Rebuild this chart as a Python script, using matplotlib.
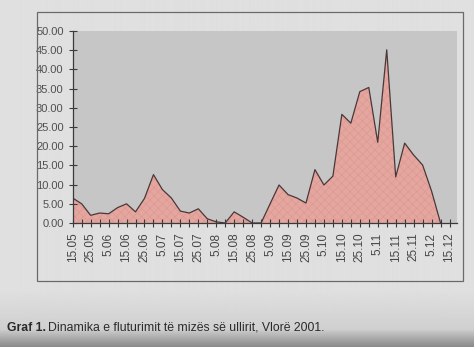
import numpy as np
import matplotlib
matplotlib.use('Agg')
import matplotlib.pyplot as plt
from matplotlib.patches import Rectangle

# flight dynamics, readings every 5 days from 15.05 to 10.12
dates = ['15.05', '20.05', '25.05', '30.05', '5.06', '10.06', '15.06', '20.06', '25.06', '30.06',
         '5.07', '10.07', '15.07', '20.07', '25.07', '30.07', '5.08', '10.08', '15.08', '20.08',
         '25.08', '30.08', '5.09', '10.09', '15.09', '20.09', '25.09', '30.09', '5.10', '10.10',
         '15.10', '20.10', '25.10', '30.10', '5.11', '10.11', '15.11', '20.11', '25.11', '30.11',
         '5.12', '10.12', '15.12']
values = [6.5, 5.0, 2.0, 2.6, 2.4, 4.0, 5.0, 2.9, 6.4, 12.6,
          8.7, 6.5, 3.1, 2.6, 3.7, 1.1, 0.3, 0.0, 2.9, 1.5,
          0.0, 0.0, 5.0, 9.9, 7.4, 6.5, 5.2, 13.9, 9.9, 12.2,
          28.3, 26.0, 34.2, 35.3, 21.0, 45.1, 12.0, 20.8, 17.7, 15.1,
          8.3, 0.0]
yticks = [0, 5, 10, 15, 20, 25, 30, 35, 40, 45, 50]

plt.rcParams['font.family'] = ['Liberation Sans', 'DejaVu Sans']
plt.rcParams['hatch.linewidth'] = 0.4

fig = plt.figure(figsize=(4.74, 3.47), dpi=100)

# paper background with darker shadow at the bottom
bg = fig.add_axes([0, 0, 1, 1], zorder=-10)
grad = np.ones((347, 1))
grad[290:, 0] = np.linspace(1.0, 0.9, 57)
grad[330:, 0] = np.linspace(0.9, 0.62, 17)
bg.imshow(grad, aspect='auto', cmap='gray', vmin=0, vmax=1.14, extent=[0, 1, 0, 1], origin='upper')
bg.axis('off')

# printed frame around the chart
fig.add_artist(Rectangle((37 / 474, 1 - 281 / 347), 426 / 474, 269 / 347,
                         transform=fig.transFigure, fill=False, edgecolor='#6a6a6a', lw=0.9))

ax = fig.add_axes([72.7 / 474, 1 - 223 / 347, 384 / 474, 192 / 347])
ax.set_facecolor('#c6c6c6')

x = np.arange(len(values))
ax.fill_between(x, values, 0, facecolor='#e4a69f', edgecolor='#d99891', hatch='xxxx', linewidth=0)
ax.plot(x, values, color='#4a3838', lw=0.9)

ax.set_xlim(0, 42.8)
ax.set_ylim(0, 50)
ax.set_yticks(yticks)
ax.set_yticklabels([f'{v:.2f}' for v in yticks], fontsize=8, color='#505050')
ax.set_xticks(np.arange(len(dates)))
ax.set_xticklabels([d if i % 2 == 0 else '' for i, d in enumerate(dates)],
                   rotation=90, fontsize=8.5, color='#454545')
ax.tick_params(axis='both', direction='inout', length=6, width=0.8, color='#3a3a3a')
ax.tick_params(axis='x', pad=4)
for s in ['top', 'right']:
    ax.spines[s].set_visible(False)
for s in ['left', 'bottom']:
    ax.spines[s].set_color('#3a3a3a')
    ax.spines[s].set_linewidth(0.9)

fig.text(7 / 474, 1 - 328 / 347, 'Graf 1.', fontsize=8.8, fontweight='bold', color='#2a2a2a', va='center')
fig.text(48 / 474, 1 - 328 / 347, 'Dinamika e fluturimit të mizës së ullirit, Vlorë 2001.',
         fontsize=8.8, color='#2a2a2a', va='center')

fig.savefig('out.png', dpi=100)
